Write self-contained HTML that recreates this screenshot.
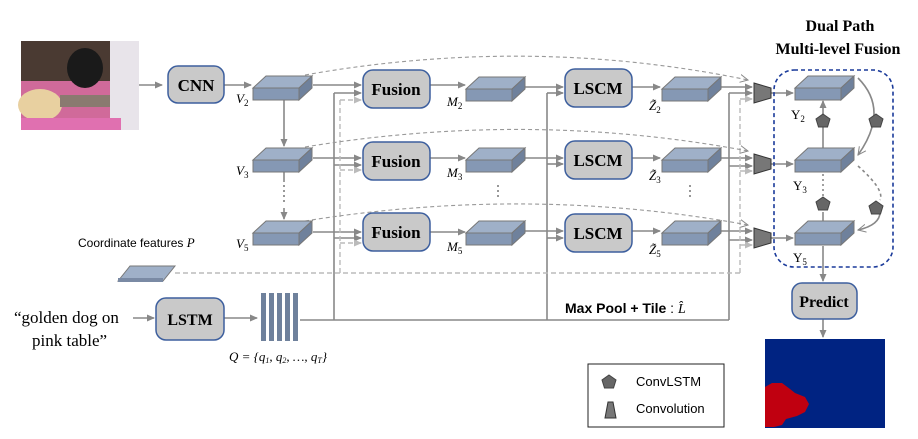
<!DOCTYPE html>
<html><head><meta charset="utf-8"><style>
html,body{margin:0;padding:0;background:#fff;}
svg{display:block;}
.b{font-family:"Liberation Serif",serif;font-weight:bold;}
.s{font-family:"Liberation Sans",sans-serif;}
.i{font-family:"Liberation Serif",serif;font-style:italic;}
</style></head><body>
<svg width="918" height="439" viewBox="0 0 918 439" xmlns="http://www.w3.org/2000/svg">
<defs>
<marker id="a" markerWidth="8" markerHeight="8" refX="7" refY="4" orient="auto" markerUnits="userSpaceOnUse"><path d="M0,0.5 L8,4 L0,7.5 z" fill="#888"/></marker>
<marker id="al" markerWidth="8" markerHeight="8" refX="7" refY="4" orient="auto" markerUnits="userSpaceOnUse"><path d="M0,0.5 L8,4 L0,7.5 z" fill="#bbb"/></marker>
<marker id="ao" markerWidth="10" markerHeight="10" refX="8" refY="5" orient="auto" markerUnits="userSpaceOnUse"><path d="M0,1 L8,5 L0,9" fill="none" stroke="#888" stroke-width="1"/></marker>
<g id="slab"><path d="M0,12 L13,0 L59,0 L46,12 z" fill="#9fb0c8" stroke="#777" stroke-width="1"/><rect x="0" y="12" width="46" height="12" fill="#8598b4" stroke="#777"/><path d="M46,12 L59,0 L59,12 L46,24 z" fill="#6f819c" stroke="#777"/></g>
<g id="pent"><path d="M0,-7 L7,-2 L4.5,6 L-4.5,6 L-7,-2 z" fill="#666" stroke="#444"/></g>
<g id="conv"><path d="M0,0 L17,5 L17,15 L0,20 z" fill="#777" stroke="#333"/></g>
</defs>

<!-- image -->
<rect x="21" y="41" width="118" height="89" fill="#d06a9a"/>
<rect x="21" y="41" width="118" height="40" fill="#4a3a32"/>
<rect x="110" y="41" width="29" height="89" fill="#e8e4ea"/>
<ellipse cx="85" cy="68" rx="18" ry="20" fill="#1a1a1a"/>
<ellipse cx="40" cy="105" rx="22" ry="16" fill="#e8d0a0"/>
<rect x="60" y="95" width="50" height="12" fill="#8a7a70"/>
<rect x="21" y="118" width="100" height="12" fill="#e070b0"/>

<g stroke="#888" stroke-width="1.6" fill="none">
<line x1="139" y1="85" x2="162" y2="85" marker-end="url(#a)"/>
<line x1="224" y1="85" x2="251" y2="85" marker-end="url(#a)"/>
<line x1="284" y1="100" x2="284" y2="146" marker-end="url(#a)"/>
<line x1="284" y1="172" x2="284" y2="182"/>
<line x1="284" y1="208" x2="284" y2="219" marker-end="url(#a)"/>
<line x1="313" y1="85" x2="361" y2="85" marker-end="url(#a)"/>
<line x1="313" y1="158" x2="361" y2="158" marker-end="url(#a)"/>
<line x1="313" y1="232" x2="361" y2="232" marker-end="url(#a)"/>
<line x1="334" y1="320" x2="334" y2="93"/>
<line x1="334" y1="93" x2="361" y2="93" marker-end="url(#a)"/>
<line x1="334" y1="165" x2="361" y2="165" marker-end="url(#a)"/>
<line x1="334" y1="238" x2="361" y2="238" marker-end="url(#a)"/>
<line x1="547" y1="320" x2="547" y2="93"/>
<line x1="547" y1="93" x2="563" y2="93" marker-end="url(#a)"/>
<line x1="547" y1="164" x2="563" y2="164" marker-end="url(#a)"/>
<line x1="547" y1="238" x2="563" y2="238" marker-end="url(#a)"/>
<line x1="729" y1="320" x2="729" y2="93"/>
<line x1="729" y1="93" x2="752" y2="93" marker-end="url(#a)"/>
<line x1="729" y1="166" x2="752" y2="166" marker-end="url(#a)"/>
<line x1="729" y1="240" x2="752" y2="240" marker-end="url(#a)"/>
<line x1="300" y1="320" x2="729" y2="320"/>
<line x1="430" y1="85" x2="465" y2="85" marker-end="url(#a)"/>
<line x1="430" y1="158" x2="465" y2="158" marker-end="url(#a)"/>
<line x1="430" y1="232" x2="465" y2="232" marker-end="url(#a)"/>
<line x1="525" y1="87" x2="563" y2="87" marker-end="url(#a)"/>
<line x1="525" y1="158" x2="563" y2="158" marker-end="url(#a)"/>
<line x1="525" y1="231" x2="563" y2="231" marker-end="url(#a)"/>
<line x1="632" y1="87" x2="660" y2="87" marker-end="url(#a)"/>
<line x1="632" y1="158" x2="660" y2="158" marker-end="url(#a)"/>
<line x1="632" y1="231" x2="660" y2="231" marker-end="url(#a)"/>
<line x1="720" y1="87" x2="752" y2="87" marker-end="url(#a)"/>
<line x1="720" y1="158" x2="752" y2="158" marker-end="url(#a)"/>
<line x1="720" y1="231" x2="752" y2="231" marker-end="url(#a)"/>
<line x1="771" y1="93" x2="793" y2="93" marker-end="url(#a)"/>
<line x1="771" y1="164" x2="793" y2="164" marker-end="url(#a)"/>
<line x1="771" y1="238" x2="793" y2="238" marker-end="url(#a)"/>
<line x1="823" y1="153" x2="823" y2="101" marker-end="url(#a)"/>
<line x1="823" y1="226" x2="823" y2="212"/>
<line x1="823" y1="196" x2="823" y2="174" stroke-dasharray="2,3"/>
<line x1="823" y1="246" x2="823" y2="281" marker-end="url(#a)"/>
<line x1="823" y1="318" x2="823" y2="337" marker-end="url(#a)"/>
<path d="M858,78 Q890,110 858,155" marker-end="url(#ao)"/>
<path d="M858,166 Q885,190 880,200" stroke-dasharray="3,3"/>
<path d="M880,212 Q880,225 858,230" marker-end="url(#ao)"/>
<line x1="224" y1="318" x2="257" y2="318" marker-end="url(#a)"/>
<line x1="133" y1="318" x2="154" y2="318" marker-end="url(#a)"/>
</g>

<g stroke="#bbb" stroke-width="1.4" fill="none" stroke-dasharray="5,3">
<line x1="175" y1="273" x2="740" y2="273"/>
<line x1="340" y1="273" x2="340" y2="100"/>
<line x1="340" y1="100" x2="361" y2="100" marker-end="url(#al)"/>
<line x1="340" y1="170" x2="361" y2="170" marker-end="url(#al)"/>
<line x1="340" y1="243" x2="361" y2="243" marker-end="url(#al)"/>
<line x1="740" y1="273" x2="740" y2="99"/>
<line x1="740" y1="99" x2="752" y2="99" marker-end="url(#al)"/>
<line x1="740" y1="171" x2="752" y2="171" marker-end="url(#al)"/>
<line x1="740" y1="245" x2="752" y2="245" marker-end="url(#al)"/>
</g>
<g stroke="#999" stroke-width="1.1" fill="none" stroke-dasharray="4,3">
<path d="M305,75 Q530,35 748,80" marker-end="url(#ao)"/>
<path d="M305,147 Q530,110 748,151" marker-end="url(#ao)"/>
<path d="M305,221 Q530,185 748,225" marker-end="url(#ao)"/>
</g>

<g fill="#c9c9c9" stroke="#3d5f9e" stroke-width="1.5">
<rect x="168" y="66" width="56" height="37" rx="10"/>
<rect x="363" y="70" width="67" height="38" rx="10"/>
<rect x="363" y="142" width="67" height="38" rx="10"/>
<rect x="363" y="213" width="67" height="38" rx="10"/>
<rect x="565" y="69" width="67" height="38" rx="10"/>
<rect x="565" y="141" width="67" height="38" rx="10"/>
<rect x="565" y="214" width="67" height="38" rx="10"/>
<rect x="156" y="298" width="68" height="42" rx="10"/>
<rect x="792" y="283" width="65" height="36" rx="10"/>
</g>
<g class="b" font-size="17" text-anchor="middle" fill="#000">
<text x="196" y="91">CNN</text>
<text x="396" y="95">Fusion</text>
<text x="396" y="167">Fusion</text>
<text x="396" y="238">Fusion</text>
<text x="598" y="94">LSCM</text>
<text x="598" y="166">LSCM</text>
<text x="598" y="239">LSCM</text>
<text x="190" y="325" font-size="16">LSTM</text>
<text x="824" y="307" font-size="16">Predict</text>
</g>

<use href="#slab" x="253" y="76"/><use href="#slab" x="253" y="148"/><use href="#slab" x="253" y="221"/>
<use href="#slab" x="466" y="77"/><use href="#slab" x="466" y="148"/><use href="#slab" x="466" y="221"/>
<use href="#slab" x="662" y="77"/><use href="#slab" x="662" y="148"/><use href="#slab" x="662" y="221"/>
<use href="#slab" x="795" y="76"/><use href="#slab" x="795" y="148"/><use href="#slab" x="795" y="221"/>
<path d="M118,281 L130,266 L175,266 L163,281 z" fill="#9fb0c8" stroke="#777"/>
<rect x="118" y="278" width="45" height="4" fill="#7a8aa4"/>

<use href="#conv" x="754" y="83"/><use href="#conv" x="754" y="154"/><use href="#conv" x="754" y="228"/>
<use href="#pent" x="823" y="121"/><use href="#pent" x="876" y="121"/><use href="#pent" x="823" y="204"/><use href="#pent" x="876" y="208"/>

<rect x="774" y="70" width="119" height="197" rx="20" fill="none" stroke="#1a3a9a" stroke-width="1.6" stroke-dasharray="4,3"/>

<g fill="#777"><circle cx="498" cy="186" r="1"/><circle cx="498" cy="191" r="1"/><circle cx="498" cy="196" r="1"/>
<circle cx="690" cy="186" r="1"/><circle cx="690" cy="191" r="1"/><circle cx="690" cy="196" r="1"/>
<circle cx="284" cy="186" r="1"/><circle cx="284" cy="191" r="1"/><circle cx="284" cy="196" r="1"/><circle cx="284" cy="201" r="1"/></g>

<g fill="#6f819c"><rect x="261" y="293" width="5" height="48"/><rect x="269" y="293" width="5" height="48"/><rect x="277" y="293" width="5" height="48"/><rect x="285" y="293" width="5" height="48"/><rect x="293" y="293" width="5" height="48"/></g>

<g class="i" font-size="13">
<text x="236" y="103">V<tspan font-size="9" dy="3" font-style="normal">2</tspan></text>
<text x="236" y="175">V<tspan font-size="9" dy="3" font-style="normal">3</tspan></text>
<text x="236" y="248">V<tspan font-size="9" dy="3" font-style="normal">5</tspan></text>
<text x="447" y="106">M<tspan font-size="9" dy="3" font-style="normal">2</tspan></text>
<text x="447" y="177">M<tspan font-size="9" dy="3" font-style="normal">3</tspan></text>
<text x="447" y="251">M<tspan font-size="9" dy="3" font-style="normal">5</tspan></text>
<text x="649" y="110">Z̃<tspan font-size="9" dy="3" font-style="normal">2</tspan></text>
<text x="649" y="180">Z̃<tspan font-size="9" dy="3" font-style="normal">3</tspan></text>
<text x="649" y="254">Z̃<tspan font-size="9" dy="3" font-style="normal">5</tspan></text>
<text x="229" y="361" font-size="13">Q = {q<tspan font-size="8" dy="2">1</tspan><tspan dy="-2">, q</tspan><tspan font-size="8" dy="2">2</tspan><tspan dy="-2">, …, q</tspan><tspan font-size="8" dy="2">T</tspan><tspan dy="-2">}</tspan></text>
</g>
<g font-family="Liberation Serif,serif" font-size="13">
<text x="791" y="119">Y<tspan font-size="9" dy="3">2</tspan></text>
<text x="793" y="190">Y<tspan font-size="9" dy="3">3</tspan></text>
<text x="793" y="262">Y<tspan font-size="9" dy="3">5</tspan></text>
</g>
<text class="b" x="840" y="31" font-size="16" text-anchor="middle">Dual Path</text>
<text class="b" x="838" y="54" font-size="16" text-anchor="middle">Multi-level Fusion</text>
<text class="s" x="78" y="247" font-size="12">Coordinate features <tspan class="i" font-size="13">P</tspan></text>
<text class="s" x="565" y="313" font-size="14" font-weight="bold">Max Pool + Tile <tspan font-weight="normal">: </tspan><tspan class="i" font-weight="normal">L̂</tspan></text>
<text font-family="Liberation Serif,serif" font-size="17" x="14" y="323">“golden dog on</text>
<text font-family="Liberation Serif,serif" font-size="17" x="32" y="346">pink table”</text>

<rect x="765" y="339" width="120" height="89" fill="#002382"/>
<path d="M765,387 L772,383 L782,383 L790,389 L795,393 L805,397 L809,404 L805,412 L797,416 L786,419 L782,425 L774,427 L765,427 z" fill="#c00010"/>

<rect x="588" y="364" width="136" height="63" fill="#fff" stroke="#222"/>
<use href="#pent" x="609" y="382"/>
<path d="M605,418 L608,402 L613,402 L616,418 z" fill="#777" stroke="#333"/>
<text class="s" x="636" y="386" font-size="13">ConvLSTM</text>
<text class="s" x="636" y="413" font-size="13">Convolution</text>
</svg>
</body></html>
